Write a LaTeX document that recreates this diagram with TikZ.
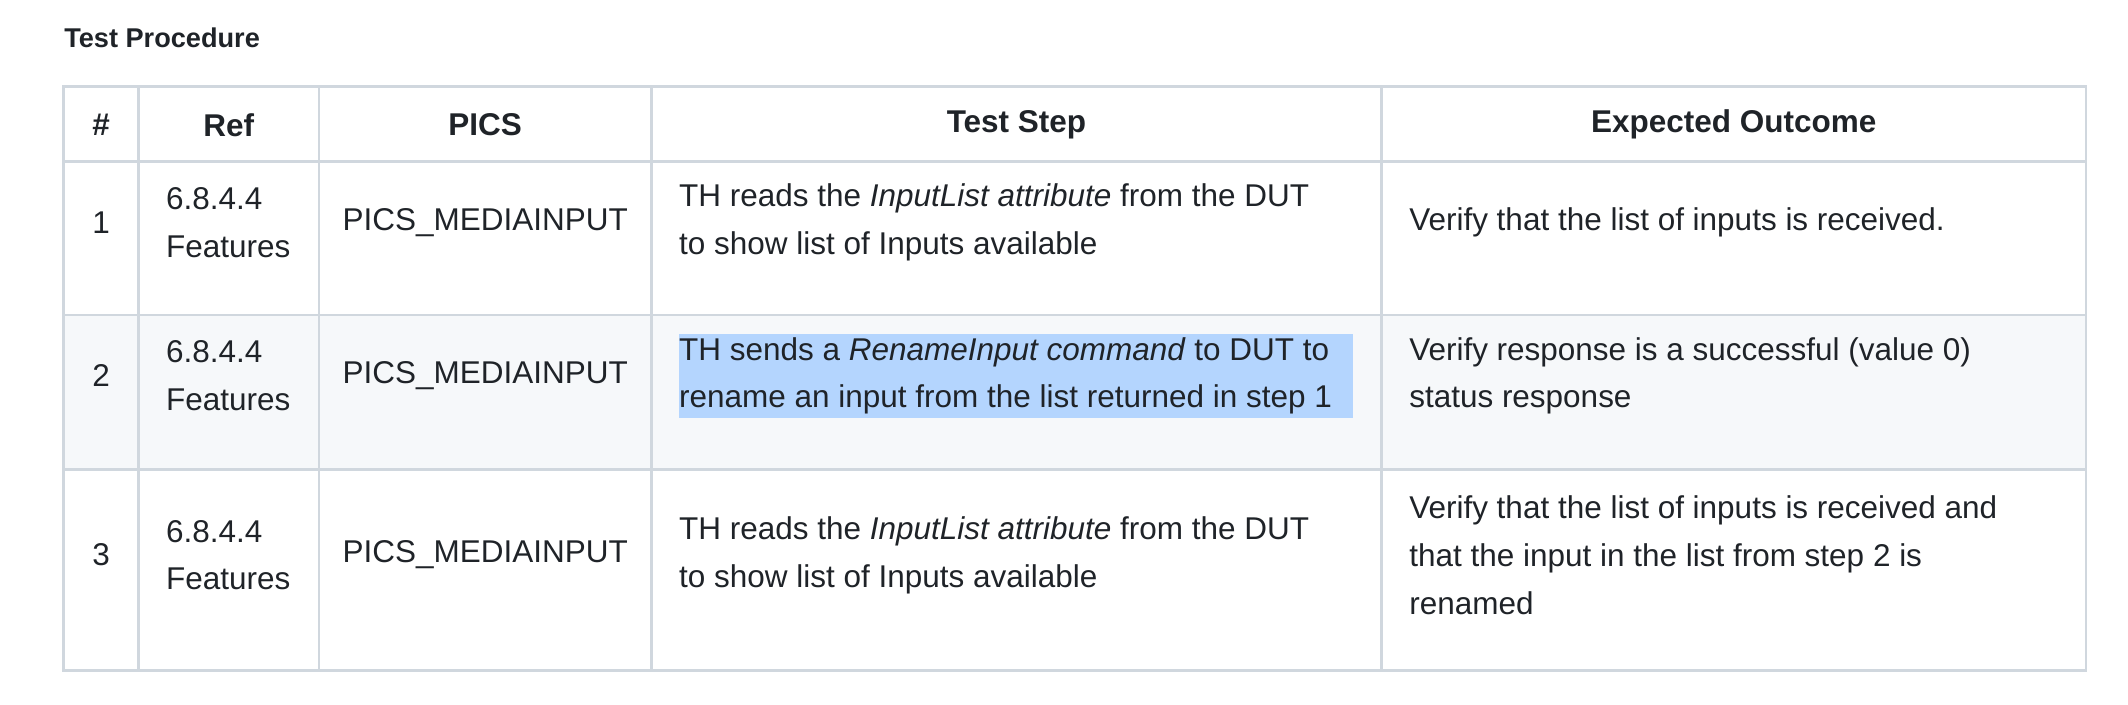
\documentclass[tikz,border=0pt]{standalone}
\usepackage{fontspec}
\setmainfont{Liberation Sans}
\usetikzlibrary{calc}
\definecolor{grille}{HTML}{D0D7DE}
\definecolor{fondgris}{HTML}{F6F8FA}
\definecolor{surligne}{HTML}{B4D5FE}
\definecolor{encre}{HTML}{1F2328}
\tikzstyle{cellule} = [anchor=west, align=left, inner sep=0pt, text=encre, font=\fontsize{11.6}{17.6}\selectfont]
\tikzstyle{centre} = [anchor=center, align=center, inner sep=0pt, text=encre, font=\fontsize{11.6}{17.6}\selectfont]
\tikzstyle{entete} = [anchor=center, inner sep=0pt, text=encre, font=\fontsize{11.6}{17.6}\selectfont\bfseries]

\begin{document}
\begin{tikzpicture}[x=0.5pt, y=-0.5pt]
                \useasboundingbox (0,0) rectangle (1568,519);
                \node [anchor=west, inner sep=0pt, text=encre, font=\fontsize{10}{12}\selectfont\bfseries] (titre) at (47,28) {Test Procedure};

                \fill [fondgris] (47,232) rectangle (1537,346);
                \fill [surligne] (500,246) rectangle (997,308);

                \draw [grille, line width=1pt] (47,64) rectangle (1537,494);
                \foreach \y in {119,232,346} {
                    \draw [grille, line width=1pt] (47,\y) -- (1537,\y);
                }
                \foreach \x in {102,235,480,1018} {
                    \draw [grille, line width=1pt] (\x,64) -- (\x,494);
                }

                \node [entete] (hnum) at (74.5,92) {\#};
                \node [entete] (href) at (168.5,92) {Ref};
                \node [entete] (hpics) at (357.5,92) {PICS};
                \node [entete] (hstep) at (749,92) {Test Step};
                \node [entete] (hout) at (1277.5,92) {Expected Outcome};

                \node [centre] (num1) at (74.5,164) {1};
                \node [cellule] (ref1) at (122,164) {6.8.4.4\\Features};
                \node [centre] (pics1) at (357.5,164) {PICS\_MEDIAINPUT};
                \node [cellule] (step1) at (500,164) {TH reads the \textit{InputList attribute} from the DUT\\to show list of Inputs available};
                \node [cellule] (out1) at (1038,164) {Verify that the list of inputs is received.};

                \node [centre] (num2) at (74.5,277) {2};
                \node [cellule] (ref2) at (122,277) {6.8.4.4\\Features};
                \node [centre] (pics2) at (357.5,277) {PICS\_MEDIAINPUT};
                \node [cellule] (step2) at (500,277) {TH sends a \textit{RenameInput command} to DUT to\\rename an input from the list returned in step 1};
                \node [cellule] (out2) at (1038,277) {Verify response is a successful (value 0)\\status response};

                \node [centre] (num3) at (74.5,409) {3};
                \node [cellule] (ref3) at (122,409) {6.8.4.4\\Features};
                \node [centre] (pics3) at (357.5,409) {PICS\_MEDIAINPUT};
                \node [cellule] (step3) at (500,409) {TH reads the \textit{InputList attribute} from the DUT\\to show list of Inputs available};
                \node [cellule] (out3) at (1038,409) {Verify that the list of inputs is received and\\that the input in the list from step 2 is\\renamed};
\end{tikzpicture}
\end{document}
